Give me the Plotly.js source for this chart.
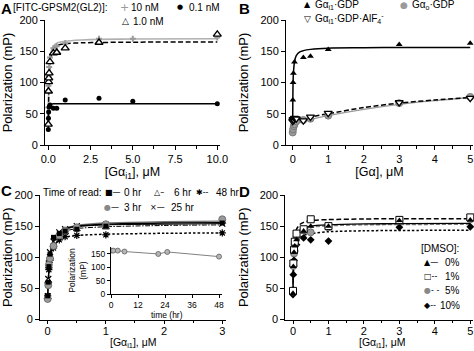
<!DOCTYPE html>
<html><head><meta charset="utf-8">
<script src="https://cdn.plot.ly/plotly-3.0.1.min.js"></script>
<style>html,body{margin:0;padding:0;background:#fff}#chart{width:474px;height:351px}</style>
</head><body><div id="chart"></div>
<script>
// ---------- Panel A : [FITC-GPSM2(GL2)] titration ----------
const aX      = [0, 0.01, 0.02, 0.05, 0.1, 0.3, 0.5, 1, 3, 5, 10];
const a10nM   = [60, 95, 110, 125, 140, 155, 158, 163, 170, 170, 172];
const a01nM   = [25, 43, 53, 61, 64, 59, 59, 72, 75, 70, 66];
const a1nMX   = [0, 0.01, 0.02, 0.03, 0.05, 0.1, 0.3, 0.5, 1, 3, 10];
const a1nM    = [33, 86, 101, 107, 115, 133, 147, 148, 155, 164, 177];
const aFitX   = [0, 0.02, 0.05, 0.1, 0.2, 0.3, 0.5, 1, 2, 3, 5, 10];
const a10Fit  = [60, 85, 110, 135, 152, 158, 163, 166, 168, 169, 169.5, 170];
const a1Fit   = [33, 70, 105, 130, 148, 154, 159, 162, 163.5, 164, 164.5, 165];
const a01Fit  = [25, 55, 63, 65, 65.5, 66, 66, 66, 66, 66, 66, 66];

// ---------- Panel B : G alpha species ----------
const bGdpX   = [0, 0.003, 0.01, 0.02, 0.05, 0.3, 0.5, 1, 3, 5];
const bGdp    = [42, 72, 100, 115, 133, 140, 142, 153, 161, 163];
const bX      = [0, 0.01, 0.03, 0.05, 0.1, 0.3, 0.5, 1, 3, 5];
const bAlf    = [38, 41, 40, 43, 42, 39, 45, 51, 68, 75];
const bGo     = [20, 25, 30, 33, 38, 40, 42, 47, 67, 77];
const bGdpFitX= [0, 0.003, 0.01, 0.02, 0.05, 0.1, 0.2, 0.3, 0.5, 1, 2, 3, 5];
const bGdpFit = [40, 70, 100, 115, 133, 143, 149, 151, 153, 155, 155.5, 156, 156];
const bFitX   = [0, 0.02, 0.05, 0.1, 0.2, 0.3, 0.5, 1, 2, 3, 4, 5];
const bAlfFit = [38, 39, 40, 41, 42, 43, 45, 50, 60, 67, 72, 76];
const bGoFit  = [25, 28, 31, 33, 36, 38, 41, 47, 57, 65, 71, 76];

// ---------- Panel C : time of read ----------
const cX      = [0, 0.01, 0.02, 0.04, 0.1, 0.2, 0.3, 0.5, 1, 3];
const c0hr    = [38, 60, 85, 105, 132, 138, 142, 145, 150, 155];
const c3hr    = [33, 55, 88, 98, 118, 135, 143, 148, 153, 161];
const c6hr    = [36, 62, 85, 100, 120, 137, 140, 145, 148, 157];
const c25hr   = [37, 65, 90, 108, 125, 140, 145, 150, 152, 154];
const c48hr   = [38, 58, 80, 95, 115, 128, 133, 135, 136, 139];
const cFitX   = [0, 0.01, 0.02, 0.05, 0.1, 0.2, 0.3, 0.5, 1, 2, 3];
const c0Fit   = [37, 62, 80, 108, 128, 141, 146, 150, 153, 155, 155.5];
const c3Fit   = [33, 58, 78, 106, 126, 140, 146, 151, 155, 157, 158];
const c6Fit   = [36, 60, 78, 104, 123, 137, 142, 146, 149, 151, 152];
const c25Fit  = [37, 63, 82, 108, 127, 140, 145, 149, 152, 153, 154];
const c48Fit  = [38, 58, 75, 100, 117, 128, 132, 135, 137, 138.5, 139];
const insetT  = [0, 1, 3, 6, 21, 25, 48];
const insetP  = [162.5, 162.5, 162.5, 159, 150, 157.5, 140];

// ---------- Panel D : DMSO ----------
const dX      = [0, 0.01, 0.03, 0.05, 0.1, 0.3, 0.5, 1, 3, 5];
const d0      = [42, 85, 108, 118, 128, 142, 150, 150, 159, 160];
const d1      = [46, 90, 112, 125, 138, 145, 161, 150, 160, 164];
const d5      = [45, 86, 106, 120, 132, 143, 140, 148, 159, 161];
const d10     = [40, 72, 95, 110, 120, 131, 128, 126, 148, 149];
const dFitX   = [0, 0.01, 0.03, 0.05, 0.1, 0.2, 0.3, 0.5, 1, 2, 3, 5];
const d0Fit   = [42, 80, 110, 122, 135, 144, 147, 150, 152, 153.5, 154, 154.5];
const d1Fit   = [46, 85, 118, 132, 145, 153, 156, 159, 160.5, 161.5, 162, 162];
const d5Fit   = [45, 82, 108, 120, 132, 141, 144, 148, 150.5, 152, 152.5, 153];
const d10Fit  = [40, 68, 98, 110, 122, 131, 135, 138, 141, 142.5, 143, 143.5];

// ---------- layout helpers ----------
const W = 474, H = 351;
const FONT = 'Liberation Sans, Arial, Helvetica, sans-serif';
const SYMF = 'DejaVu Sans';
const xd = (l, r) => [l / W, r / W];
const yd = (t, b) => [1 - b / H, 1 - t / H];
function axis(extra) {
  return Object.assign({
    showline: true, linecolor: '#000', linewidth: 1, ticks: 'outside', ticklen: 4,
    tickwidth: 1, tickcolor: '#000', showgrid: false, zeroline: false, fixedrange: true,
    tickfont: {family: FONT, size: 11, color: '#000'}
  }, extra);
}
const minor = d => ({dtick: d, ticks: 'outside', ticklen: 2.5, tickwidth: 1, tickcolor: '#000', showgrid: false});
const yTitle = {text: 'Polarization (mP)', font: {family: FONT, size: 13, color: '#000'}, standoff: 8};
const xTitle = (t) => ({text: t, font: {family: FONT, size: 12.5, color: '#000'}, standoff: 3});

function pts(x, y, xa, ya, marker) {
  return {type: 'scatter', mode: 'markers', x, y, xaxis: xa, yaxis: ya, marker, hoverinfo: 'skip', cliponaxis: false};
}
function fit(x, y, xa, ya, line) {
  return {type: 'scatter', mode: 'lines', x, y, xaxis: xa, yaxis: ya,
    line: Object.assign({shape: 'spline', smoothing: 0.8}, line), hoverinfo: 'skip'};
}
const blk = '#000', gry = '#9a9a9a';

const traces = [
  // A
  fit(aFitX, a10Fit, 'x', 'y', {color: '#b0b0b0', width: 1.6}),
  fit(aFitX, a1Fit, 'x', 'y', {color: blk, width: 1.5, dash: '5px,2.5px'}),
  fit(aFitX, a01Fit, 'x', 'y', {color: blk, width: 1.5}),
  pts(aX, a10nM, 'x', 'y', {symbol: 'cross', size: 5, color: gry}),
  pts(aX, a01nM, 'x', 'y', {symbol: 'circle', size: 5, color: blk}),
  pts(a1nMX, a1nM, 'x', 'y', {symbol: 'triangle-up', size: 7, color: '#fff', line: {color: blk, width: 1.4}}),
  // B
  fit(bFitX, bGoFit, 'x2', 'y2', {color: gry, width: 1.4}),
  fit(bFitX, bAlfFit, 'x2', 'y2', {color: blk, width: 1.5, dash: '5px,2.5px'}),
  fit(bGdpFitX, bGdpFit, 'x2', 'y2', {color: blk, width: 1.5}),
  pts(bX, bGo, 'x2', 'y2', {symbol: 'circle', size: 7, color: gry, line: {color: '#707070', width: 0.8}}),
  pts(bX, bAlf, 'x2', 'y2', {symbol: 'triangle-down', size: 7, color: '#fff', line: {color: blk, width: 1.3}}),
  pts(bGdpX, bGdp, 'x2', 'y2', {symbol: 'triangle-up', size: 6, color: blk}),
  // C
  fit(cFitX, c48Fit, 'x3', 'y3', {color: blk, width: 1.5, dash: '2.5px,2px'}),
  fit(cFitX, c6Fit, 'x3', 'y3', {color: blk, width: 1, dash: '5px,1.5px,1.5px,1.5px'}),
  fit(cFitX, c25Fit, 'x3', 'y3', {color: blk, width: 1}),
  fit(cFitX, c3Fit, 'x3', 'y3', {color: '#777', width: 1.3}),
  fit(cFitX, c0Fit, 'x3', 'y3', {color: blk, width: 1.3}),
  pts(cX, c48hr, 'x3', 'y3', {symbol: 'asterisk', size: 6, color: blk, line: {color: blk, width: 1.2}}),
  pts(cX, c25hr, 'x3', 'y3', {symbol: 'x-thin', size: 6, color: blk, line: {color: blk, width: 1.2}}),
  pts(cX, c6hr, 'x3', 'y3', {symbol: 'triangle-up', size: 6, color: '#fff', line: {color: blk, width: 1}}),
  pts(cX, c3hr, 'x3', 'y3', {symbol: 'circle', size: 7, color: gry, line: {color: '#606060', width: 0.8}}),
  pts(cX, c0hr, 'x3', 'y3', {symbol: 'square', size: 5, color: blk}),
  {type: 'scatter', mode: 'lines+markers', x: insetT, y: insetP, xaxis: 'x5', yaxis: 'y5', hoverinfo: 'skip',
   line: {color: '#808080', width: 1}, marker: {symbol: 'circle', size: 5, color: '#b5b5b5', line: {color: '#606060', width: 0.8}}},
  // D
  fit(dFitX, d10Fit, 'x4', 'y4', {color: blk, width: 1.5, dash: '2.5px,2px'}),
  fit(dFitX, d5Fit, 'x4', 'y4', {color: '#808080', width: 1.4, dash: '4px,2px'}),
  fit(dFitX, d0Fit, 'x4', 'y4', {color: blk, width: 1.3}),
  fit(dFitX, d1Fit, 'x4', 'y4', {color: blk, width: 1.5, dash: '5px,2.5px'}),
  pts(dX, d10, 'x4', 'y4', {symbol: 'diamond', size: 6, color: blk}),
  pts(dX, d5, 'x4', 'y4', {symbol: 'circle', size: 7, color: gry, line: {color: '#606060', width: 0.8}}),
  pts(dX, d1, 'x4', 'y4', {symbol: 'square', size: 7, color: '#fff', line: {color: blk, width: 1}}),
  pts(dX, d0, 'x4', 'y4', {symbol: 'triangle-up', size: 6, color: blk}),
];

// annotation helpers (pixel positions -> paper)
function txt(text, x, y, o) {
  return Object.assign({xref: 'paper', yref: 'paper', x: x / W, y: 1 - y / H, xanchor: 'left', yanchor: 'middle',
    text, showarrow: false, borderpad: 0, font: {family: FONT, size: 10, color: '#000'}}, o || {});
}
function sym(text, x, y, color, size) {
  return txt(text, x, y, {xanchor: 'center', font: {family: SYMF, size: size || 8, color: color || '#000'}});
}
const key = (t, x, y) => txt(t, x, y, {font: {family: SYMF, size: 8, color: '#000'}});
const letter = (t, x, y) => txt('<b>' + t + '</b>', x, y, {yanchor: 'top', font: {family: FONT, size: 15, color: '#000'}});
const xLab = (t, x) => txt(t, x, 351, {xanchor: 'center', yanchor: 'bottom', font: {family: FONT, size: 10.5, color: '#000'}});

const annotations = [
  letter('A', 0, -1), letter('B', 238, -1), letter('C', 0, 181), letter('D', 238, 182),
  // A legend
  txt('[FITC-GPSM2(GL2)]:', 12, 7),
  sym('+', 124, 7, gry, 11), txt('10 nM', 130, 7),
  sym('●', 180, 7, '#000', 7), txt('0.1 nM', 188, 7),
  sym('△', 126, 21, '#000', 9), txt('1.0 nM', 132, 21),
  // B legend
  sym('▲', 307, 5, '#000', 8), txt('Gα<sub>i1</sub>·GDP', 314, 5),
  sym('●', 404, 5, gry, 9), txt('Gα<sub>o</sub>·GDP', 411, 5),
  sym('▽', 307, 19, '#000', 9), txt('Gα<sub>i1</sub>·GDP·AlF<sub>4</sub><sup>-</sup>', 314, 19),
  // C legend
  txt('Time of read:', 42, 192),
  key('■—', 104, 192), txt('0 hr', 123, 192),
  key('△–', 153, 192), txt('6 hr', 173, 192),
  key('✱--', 195, 192), txt('48 hr', 215, 192),
  key('<span style="color:#888">●</span>—', 103, 207), txt('3 hr', 123, 207),
  key('×—', 149, 207), txt('25 hr', 170, 207),
  // D legend
  txt('[DMSO]:', 420, 248),
  key('▲—', 423, 262), txt('0%', 461, 262, {xanchor: 'right'}),
  key('□--', 423, 276), txt('1%', 461, 276, {xanchor: 'right'}),
  key('<span style="color:#888">●</span>- -', 423, 290), txt('5%', 461, 290, {xanchor: 'right'}),
  key('◆--', 423, 305), txt('10%', 461, 305, {xanchor: 'right'}),
  // bottom-row x axis titles
  xLab('[Gα<sub>i1</sub>], μM', 133), xLab('[Gα<sub>i1</sub>], μM', 382),
];

const layout = {
  width: W, height: H, margin: {l: 0, r: 0, t: 0, b: 0}, paper_bgcolor: '#fff', plot_bgcolor: 'rgba(0,0,0,0)',
  showlegend: false, font: {family: FONT, color: '#000'},
  xaxis: axis({domain: xd(45, 220), range: [-0.195, 10.16], anchor: 'y', tick0: 0, dtick: 2.5, tickformat: '.1f',
               minor: minor(1.25), title: xTitle('[Gα<sub>i1</sub>], μM')}),
  yaxis: axis({domain: yd(20, 145), range: [0, 200], anchor: 'x', dtick: 50, title: yTitle}),
  xaxis2: axis({domain: xd(286, 473), range: [-0.189, 5.079], anchor: 'y2', tick0: 0, dtick: 1,
                minor: minor(0.5), title: xTitle('[Gα], μM')}),
  yaxis2: axis({domain: yd(20, 145), range: [0, 200], anchor: 'x2', dtick: 50, title: yTitle}),
  xaxis3: axis({domain: xd(40, 226), range: [-0.132, 3.064], anchor: 'y3', tick0: 0, dtick: 1, ticklen: 3.5,
                ticklabelstandoff: -2, minor: minor(0.5)}),
  yaxis3: axis({domain: yd(195, 319.5), range: [0, 200], anchor: 'x3', dtick: 50, title: yTitle}),
  xaxis4: axis({domain: xd(285.3, 473), range: [-0.217, 5.076], anchor: 'y4', tick0: 0, dtick: 1, ticklen: 3.5,
                ticklabelstandoff: -2, minor: minor(0.5)}),
  yaxis4: axis({domain: yd(195, 319.5), range: [0, 200], anchor: 'x4', dtick: 50, title: yTitle}),
  xaxis5: axis({domain: xd(111, 222.4), range: [0, 49.5], anchor: 'y5', tick0: 0, dtick: 12, ticklen: 3,
                tickfont: {family: FONT, size: 8.5, color: '#000'},
                title: {text: 'time (hr)', font: {family: FONT, size: 8.5, color: '#000'}, standoff: 1}}),
  yaxis5: axis({domain: yd(247, 294), range: [0, 176], anchor: 'x5', tickvals: [0, 50, 100, 150], ticklen: 3,
                tickfont: {family: FONT, size: 8.5, color: '#000'},
                title: {text: 'Polarization<br>(mP)', font: {family: FONT, size: 8.5, color: '#000'}, standoff: 3}}),
  annotations
};

Plotly.newPlot('chart', traces, layout, {staticPlot: true, displayModeBar: false});
</script></body></html>
